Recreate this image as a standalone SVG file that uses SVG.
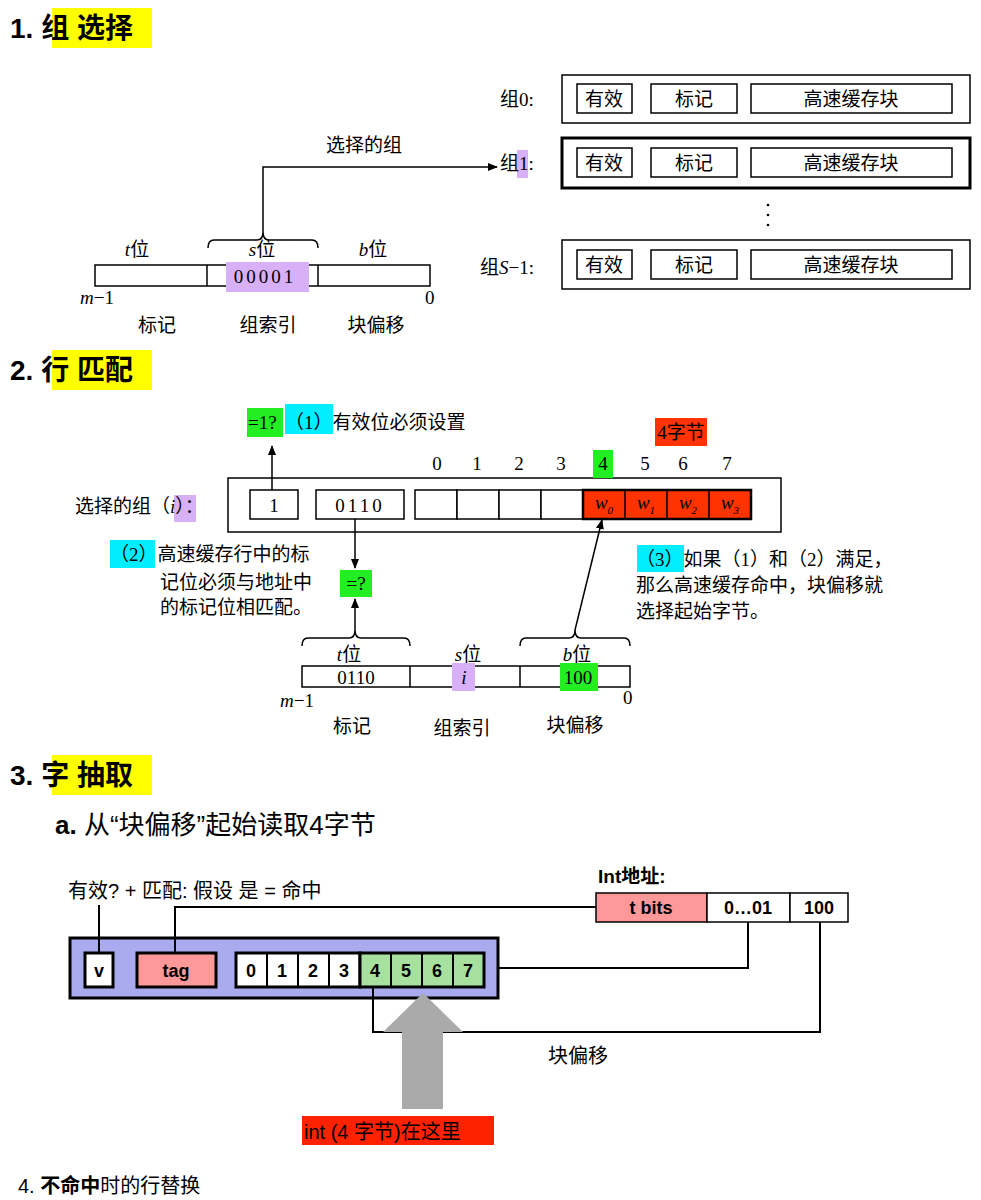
<svg xmlns="http://www.w3.org/2000/svg" width="981" height="1200" viewBox="0 0 981 1200">
<defs>
<style>
.t{font-family:"Liberation Serif","Noto Sans CJK SC",serif;font-size:19px;fill:#000}
.s{font-family:"Liberation Sans","Noto Sans CJK SC",sans-serif;fill:#000}
.h{font-family:"Liberation Sans","Noto Sans CJK SC",sans-serif;font-size:28px;font-weight:bold}
.b{fill:#fff;stroke:#000;stroke-width:1.5}
.bk{fill:#fff;stroke:#000;stroke-width:3}
.ln{fill:none;stroke:#000;stroke-width:1.5}
.ln2{fill:none;stroke:#000;stroke-width:2}
.c{text-anchor:middle}
</style>
<marker id="ar" markerWidth="10" markerHeight="10" refX="9" refY="5" orient="auto" markerUnits="userSpaceOnUse"><path d="M0,1 L10,5 L0,9 Z" fill="#000"/></marker>
</defs>
<rect width="981" height="1200" fill="#fff"/>
<!-- headings -->
<g id="h1"><rect x="52" y="8" width="100" height="40" fill="#ffff00"/><text class="h" x="10" y="38">1.  组 选择</text></g>
<g id="h2"><rect x="52" y="350" width="100" height="40" fill="#ffff00"/><text class="h" x="10" y="380">2.  行 匹配</text></g>
<g id="h3"><rect x="52" y="755" width="100" height="40" fill="#ffff00"/><text class="h" x="10" y="785">3.  字 抽取</text></g>
<text class="s" x="55" y="834" font-size="26"><tspan font-weight="bold">a.</tspan> 从“块偏移”起始读取4字节</text>
<text class="s" x="18" y="1193" font-size="20">4.  <tspan font-weight="bold">不命中</tspan>时的行替换</text>

<!-- section 1 sets -->
<g id="set0"><rect class="b" x="562" y="75" width="408" height="48"/>
<rect class="b" x="577" y="84" width="55" height="29"/><rect class="b" x="651" y="84" width="86" height="29"/><rect class="b" x="751" y="84" width="201" height="29"/>
<text class="t c" x="604" y="106">有效</text><text class="t c" x="694" y="106">标记</text><text class="t c" x="851" y="106">高速缓存块</text>
<text class="t" x="500" y="106">组0:</text></g>
<g id="set1"><rect class="bk" x="562" y="138" width="408" height="50"/>
<rect class="b" x="577" y="148" width="55" height="29"/><rect class="b" x="651" y="148" width="86" height="29"/><rect class="b" x="751" y="148" width="201" height="29"/>
<text class="t c" x="604" y="170">有效</text><text class="t c" x="694" y="170">标记</text><text class="t c" x="851" y="170">高速缓存块</text>
<rect x="517" y="150" width="11" height="28" fill="#d8b0f8"/><text class="t" x="500" y="170">组1:</text></g>
<g id="dots"><circle cx="768" cy="205" r="1.3"/><circle cx="768" cy="215" r="1.3"/><circle cx="768" cy="225" r="1.3"/></g>
<g id="setS"><rect class="b" x="562" y="240" width="408" height="49"/>
<rect class="b" x="577" y="250" width="55" height="29"/><rect class="b" x="651" y="250" width="86" height="29"/><rect class="b" x="751" y="250" width="201" height="29"/>
<text class="t c" x="604" y="272">有效</text><text class="t c" x="694" y="272">标记</text><text class="t c" x="851" y="272">高速缓存块</text>
<text class="t" x="480" y="274">组<tspan font-style="italic">S</tspan>−1:</text></g>
<g id="addr1">
<rect class="b" x="95" y="265" width="335" height="21"/>
<rect x="226" y="262" width="83" height="30" fill="#d8b0f8"/>
<line class="ln" x1="207" y1="265" x2="207" y2="286"/><line class="ln" x1="318" y1="265" x2="318" y2="286"/>
<text class="t c" x="265" y="283" letter-spacing="3">00001</text>
<text class="t c" x="137" y="256"><tspan font-style="italic">t</tspan>位</text>
<text class="t c" x="262" y="256"><tspan font-style="italic">s</tspan>位</text>
<text class="t c" x="373" y="256"><tspan font-style="italic">b</tspan>位</text>
<text class="t" x="80" y="304"><tspan font-style="italic">m</tspan>−1</text>
<text class="t" x="425" y="304">0</text>
<text class="t c" x="157" y="332">标记</text><text class="t c" x="268" y="332">组索引</text><text class="t c" x="376" y="332">块偏移</text>
</g>
<g id="conn1">
<path class="ln" d="M208,248 Q208,240 214,240 L257,240 Q263,240 263,232 Q263,240 269,240 L312,240 Q318,240 318,248"/>
<path class="ln" d="M263,232 L263,167 L497,167" marker-end="url(#ar)"/>
<text class="t c" x="364" y="152">选择的组</text>
</g>

<!-- section 2 -->
<g id="line2">
<rect class="b" x="228" y="478" width="553" height="54"/>
<rect class="b" x="250" y="490" width="48" height="29" stroke-width="2.5"/><text class="t c" x="274" y="512">1</text>
<rect class="b" x="316" y="490" width="88" height="29" stroke-width="2.5"/><text class="t c" x="360" y="512" letter-spacing="3">0110</text>
<rect class="b" x="415" y="490" width="42" height="29"/><rect class="b" x="457" y="490" width="42" height="29"/><rect class="b" x="499" y="490" width="42" height="29"/><rect class="b" x="541" y="490" width="42" height="29"/>
<rect x="583" y="490" width="168" height="29" fill="#ff3300" stroke="#000" stroke-width="2.5"/>
<line class="ln" x1="625" y1="490" x2="625" y2="519"/><line class="ln" x1="667" y1="490" x2="667" y2="519"/><line class="ln" x1="709" y1="490" x2="709" y2="519"/>
<text class="t c" x="604" y="509" font-style="italic">w<tspan font-size="11" dy="5">0</tspan></text>
<text class="t c" x="646" y="509" font-style="italic">w<tspan font-size="11" dy="5">1</tspan></text>
<text class="t c" x="688" y="509" font-style="italic">w<tspan font-size="11" dy="5">2</tspan></text>
<text class="t c" x="730" y="509" font-style="italic">w<tspan font-size="11" dy="5">3</tspan></text>
<rect x="593" y="450" width="20" height="28" fill="#22ee22"/>
<text class="t c" x="437" y="470">0</text><text class="t c" x="477" y="470">1</text><text class="t c" x="519" y="470">2</text><text class="t c" x="561" y="470">3</text><text class="t c" x="603" y="470">4</text><text class="t c" x="645" y="470">5</text><text class="t c" x="683" y="470">6</text><text class="t c" x="727" y="470">7</text>
<rect x="655" y="418" width="52" height="28" fill="#ff3300"/><text class="t c" x="681" y="439" font-size="17">4字节</text>
<rect x="174" y="495" width="22" height="27" fill="#d8b0f8"/>
<text class="t" x="75" y="513">选择的组（<tspan font-style="italic">i</tspan>）：</text>
</g>
<g id="note1"><rect x="247" y="408" width="36" height="29" fill="#22ee22"/><rect x="285" y="404" width="48" height="30" fill="#00eeff"/>
<text class="t" x="248" y="429" font-size="17">=1?</text><text class="t" x="285" y="429">（1）有效位必须设置</text></g>
<g id="note2"><rect x="110" y="540" width="45" height="28" fill="#00eeff"/>
<text class="t" x="110" y="561">（2）高速缓存行中的标</text><text class="t" x="160" y="589">记位必须与地址中</text><text class="t" x="160" y="614">的标记位相匹配。</text>
<rect x="340" y="570" width="32" height="27" fill="#22ee22"/><text class="t c" x="356" y="590" font-size="17">=?</text></g>
<g id="note3"><rect x="637" y="545" width="47" height="27" fill="#00eeff"/>
<text class="t" x="636" y="566">（3）如果（1）和（2）满足，</text><text class="t" x="636" y="592">那么高速缓存命中，块偏移就</text><text class="t" x="636" y="618">选择起始字节。</text></g>
<g id="addr2">
<rect class="b" x="302" y="666" width="328" height="21"/>
<line class="ln" x1="410" y1="666" x2="410" y2="687"/><line class="ln" x1="520" y1="666" x2="520" y2="687"/>
<rect x="452" y="663" width="23" height="28" fill="#d8b0f8"/><rect x="560" y="663" width="38" height="28" fill="#22ee22"/>
<text class="t c" x="356" y="684">0110</text><text class="t c" x="464" y="684" font-style="italic">i</text><text class="t c" x="578" y="684">100</text>
<text class="t c" x="349" y="661"><tspan font-style="italic">t</tspan>位</text><text class="t c" x="468" y="661"><tspan font-style="italic">s</tspan>位</text><text class="t c" x="577" y="661"><tspan font-style="italic">b</tspan>位</text>
<text class="t" x="280" y="707"><tspan font-style="italic">m</tspan>−1</text><text class="t" x="623" y="704">0</text>
<text class="t c" x="352" y="733">标记</text><text class="t c" x="462" y="735">组索引</text><text class="t c" x="575" y="732">块偏移</text>
</g>
<g id="conn2">
<path class="ln" d="M272,490 L272,446" marker-end="url(#ar)"/>
<path class="ln" d="M355,519 L355,568" marker-end="url(#ar)"/>
<path class="ln" d="M302,646 Q302,638 308,638 L349,638 Q355,638 355,630 Q355,638 361,638 L404,638 Q410,638 410,646"/>
<path class="ln" d="M355,630 L355,599" marker-end="url(#ar)"/>
<path class="ln" d="M520,646 Q520,638 526,638 L569,638 Q575,638 575,630 Q575,638 581,638 L624,638 Q630,638 630,646"/>
<path class="ln" d="M575,630 L602,520" marker-end="url(#ar)"/>
</g>

<!-- section 3 -->
<g id="intaddr">
<text class="s" x="598" y="883" font-size="19" font-weight="bold">Int地址:</text>
<rect x="596" y="893" width="111" height="29" fill="#f99" stroke="#000" stroke-width="1.5"/>
<rect class="b" x="707" y="893" width="83" height="29"/><rect class="b" x="790" y="893" width="58" height="29"/>
<text class="s c" x="651" y="914" font-size="18" font-weight="bold">t bits</text>
<text class="s c" x="748" y="914" font-size="18" font-weight="bold">0…01</text>
<text class="s c" x="819" y="914" font-size="18" font-weight="bold">100</text>
</g>
<text class="s" x="68" y="898" font-size="20">有效?  +  匹配: 假设 是 = 命中</text>
<g id="cacheline">
<rect x="70" y="938" width="428" height="60" fill="#aaaaee" stroke="#000" stroke-width="3"/>
<rect x="85" y="953" width="28" height="34" fill="#fff" stroke="#000" stroke-width="3"/>
<text class="s c" x="99" y="977" font-size="18" font-weight="bold">v</text>
<rect x="137" y="953" width="79" height="34" fill="#f99" stroke="#000" stroke-width="3"/>
<text class="s c" x="176" y="977" font-size="18" font-weight="bold">tag</text>
<rect x="236" y="953" width="124" height="34" fill="#fff" stroke="#000" stroke-width="3"/>
<rect x="360" y="953" width="124" height="34" fill="#a8e0a0" stroke="#000" stroke-width="3"/>
<g stroke="#000" stroke-width="2"><line x1="267" y1="953" x2="267" y2="987"/><line x1="298" y1="953" x2="298" y2="987"/><line x1="329" y1="953" x2="329" y2="987"/><line x1="391" y1="953" x2="391" y2="987"/><line x1="422" y1="953" x2="422" y2="987"/><line x1="453" y1="953" x2="453" y2="987"/></g>
<g class="s" font-size="18" font-weight="bold" text-anchor="middle">
<text x="251" y="977">0</text><text x="282" y="977">1</text><text x="313" y="977">2</text><text x="344" y="977">3</text><text x="375" y="977">4</text><text x="406" y="977">5</text><text x="437" y="977">6</text><text x="468" y="977">7</text></g>
</g>
<g id="conn3">
<path class="ln2" d="M99,953 L99,905"/>
<path class="ln2" d="M175,953 L175,907 L596,907"/>
<path class="ln2" d="M748,922 L748,968 L498,968"/>
<path class="ln2" d="M820,922 L820,1032 L373,1032 L373,987"/>
<path d="M423,993 L463,1032 L443,1032 L443,1109 L402,1109 L402,1032 L383,1032 Z" fill="#aaa"/>
</g>
<text class="s" x="548" y="1063" font-size="20">块偏移</text>
<g id="intlabel"><rect x="302" y="1116" width="192" height="29" fill="#ff2200"/>
<text class="s" x="304" y="1139" font-size="20">int (4 字节)在这里</text></g>
</svg>
